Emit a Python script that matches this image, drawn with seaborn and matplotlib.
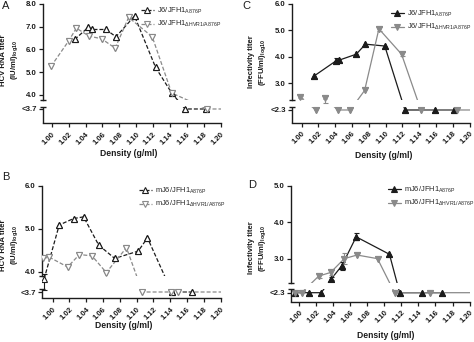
import numpy as np
import pandas as pd
import matplotlib
matplotlib.use("Agg")
import matplotlib.pyplot as plt
import matplotlib.transforms as mtransforms
import seaborn as sns

# ---------------------------------------------------------------------------
# Data: density of each gradient fraction (g/ml) and log10 titers.
# Fractions below the detection limit are stored at the limit value.
# ---------------------------------------------------------------------------
DENSITY_TICKS = [1.00, 1.02, 1.04, 1.06, 1.08, 1.10, 1.12, 1.14, 1.16, 1.18, 1.20]

# A: HCV RNA titer, J6/JFH1
A_DENS_WT = [1.027, 1.043, 1.047, 1.064, 1.076, 1.098, 1.123, 1.142, 1.158, 1.183]
A_RNA_WT = [6.44, 6.97, 6.88, 6.88, 6.56, 7.47, 5.21, 4.09, 3.7, 3.7]
A_DENS_DH = [0.999, 1.020, 1.029, 1.044, 1.059, 1.075, 1.091, 1.119, 1.142, 1.184, 1.205]
A_RNA_DH = [5.26, 6.38, 6.94, 6.59, 6.47, 6.06, 7.41, 6.56, 4.09, 3.7, 3.7]

# B: HCV RNA titer, mJ6/JFH1
B_DENS_WT = [0.990, 1.008, 1.025, 1.037, 1.055, 1.074, 1.102, 1.113, 1.142, 1.166]
B_RNA_WT = [3.83, 5.09, 5.24, 5.28, 4.62, 4.31, 4.48, 4.79, 3.7, 3.7]
B_ERR_WT = [0.12, 0, 0, 0, 0, 0, 0, 0, 0, 0]
B_DENS_DH = [0.989, 0.996, 1.018, 1.032, 1.047, 1.064, 1.088, 1.107, 1.141, 1.149, 1.205]
B_RNA_DH = [4.31, 4.34, 4.11, 4.40, 4.37, 3.98, 4.56, 3.7, 3.7, 3.7, 3.7]

# C: infectivity titer, J6/JFH1
C_DENS_WT = [1.015, 1.041, 1.045, 1.065, 1.076, 1.099, 1.123, 1.159, 1.181]
C_FFU_WT = [3.28, 3.85, 3.88, 4.10, 4.48, 4.41, 2.3, 2.3, 2.3]
C_ERR_WT = [0, 0.10, 0, 0, 0, 0, 0, 0, 0]
C_DENS_DH = [0.998, 1.017, 1.028, 1.043, 1.058, 1.075, 1.092, 1.119, 1.142, 1.185, 1.205]
C_FFU_DH = [2.48, 2.3, 2.43, 2.3, 2.3, 2.73, 5.06, 4.10, 2.3, 2.3, 2.3]
C_ERR_DH = [0.05, 0, 0.10, 0, 0, 0, 0.08, 0.08, 0, 0, 0]

# D: infectivity titer, mJ6/JFH1
D_DENS_WT = [0.995, 1.012, 1.026, 1.038, 1.050, 1.067, 1.106, 1.118, 1.144, 1.168]
D_FFU_WT = [2.3, 2.3, 2.3, 2.45, 2.80, 3.60, 3.12, 2.3, 2.3, 2.3]
D_ERR_WT = [0, 0, 0, 0.05, 0.12, 0.10, 0, 0, 0, 0]
D_DENS_DH = [0.995, 1.003, 1.023, 1.037, 1.053, 1.068, 1.092, 1.112, 1.153, 1.205]
D_FFU_DH = [2.3, 2.3, 2.52, 2.62, 3.00, 3.10, 3.00, 2.3, 2.3, 2.3]
D_ERR_DH = [0, 0, 0.05, 0.07, 0.15, 0, 0, 0, 0, 0]

LABELS_J6 = [r"J6/JFH1$_{\mathrm{A876P}}$", r"J6/JFH1$_{\mathrm{\Delta HVR1/A876P}}$"]
LABELS_MJ6 = [r"mJ6/JFH1$_{\mathrm{A876P}}$", r"mJ6/JFH1$_{\mathrm{\Delta HVR1/A876P}}$"]

# ---------------------------------------------------------------------------
sns.set_theme(style="ticks")
plt.rcParams["font.family"] = ["Liberation Sans", "DejaVu Sans"]
plt.rcParams["mathtext.fontset"] = "custom"
plt.rcParams["mathtext.rm"] = "Liberation Sans"
plt.rcParams["mathtext.bf"] = "Liberation Sans:bold"
plt.rcParams["mathtext.it"] = "Liberation Sans:italic"
plt.rcParams["axes.linewidth"] = 1.0

W, H, DPI = 474, 342, 100
BLACK = "#1c1c1c"
GREY = "#8a8a8a"
fig = plt.figure(figsize=(W / DPI, H / DPI), dpi=DPI)


def px_rect(left, top, right, bottom):
    return [left / W, 1 - bottom / H, (right - left) / W, (bottom - top) / H]


def broken_scale(brk, limit, floor_pos):
    """Linear above `brk`; the stretch below pushes the detection limit down
    to `floor_pos`, leaving room for the axis break."""
    k = (brk - floor_pos) / (brk - limit)

    def fwd(y):
        y = np.asarray(y, dtype=float)
        return np.where(y >= brk, y, brk - (brk - y) * k)

    def inv(t):
        t = np.asarray(t, dtype=float)
        return np.where(t >= brk, t, brk - (brk - t) / k)

    return fwd, inv


def draw_series(ax, x, y, err, color, marker, filled, dashed, label):
    df = pd.DataFrame({"density": x, "titer": y})
    mfc = color if filled else "white"
    ls = (0, (3.2, 1.6)) if dashed else "-"
    sns.lineplot(data=df, x="density", y="titer", ax=ax, estimator=None, sort=False,
                 color=color, linestyle=ls, linewidth=0.9, marker=marker,
                 markersize=5, markerfacecolor=mfc, markeredgecolor=color,
                 markeredgewidth=0.8, label=label, zorder=2)
    # markers sit above the break mask
    ax.plot(x, y, linestyle="none", marker=marker, ms=5, mfc=mfc, mec=color,
            mew=0.8, zorder=4)
    if err is not None:
        e = np.asarray(err, dtype=float)
        m = e > 0
        if m.any():
            ax.errorbar(np.asarray(x)[m], np.asarray(y)[m], yerr=e[m], fmt="none",
                        ecolor=color, elinewidth=0.8, capsize=1.8, capthick=0.8,
                        zorder=3.5)


def setup_panel(ax, p):
    fwd, inv = broken_scale(p["brk"], p["limit"], p["floor"])
    ax.set_yscale("function", functions=(fwd, inv))
    ax.set_xlim(p["xlim"])
    ax.set_ylim(float(inv(p["bottom"])), p["top"])
    ticks = list(p["yticks"]) + [p["limit"]]
    labels = [f"{t:.1f}" for t in p["yticks"]] + [f"<{p['limit']:.1f}"]
    ax.set_yticks(ticks)
    ax.set_yticklabels(labels, fontweight="bold")
    ax.set_xticks(DENSITY_TICKS)
    ax.set_xticklabels([f"{d:.2f}" for d in DENSITY_TICKS], rotation=45,
                       ha="right", rotation_mode="anchor", fontweight="bold")
    ax.minorticks_off()
    ax.tick_params(axis="both", length=3, width=0.9, labelsize=5.6, pad=1.5,
                   colors=BLACK, labelcolor=BLACK)
    ax.tick_params(axis="x", pad=2.5)
    for s in ("top", "right"):
        ax.spines[s].set_visible(False)
    gap_lo = float(inv(p["gap"][0]))
    gap_hi = float(inv(p["gap"][1]))
    ax.spines["left"].set_bounds(gap_hi, p["top"])
    ax.spines["left"].set_color(BLACK)
    ax.spines["bottom"].set_color(BLACK)
    tr = mtransforms.blended_transform_factory(ax.transAxes, ax.transData)
    ybot = float(inv(p["bottom"]))
    ax.plot([0, 0], [ybot, gap_lo], transform=tr, color=BLACK, lw=1.0,
            clip_on=False, zorder=5, solid_capstyle="butt")
    ax.plot([0, 0], [gap_hi, gap_lo], transform=tr, linestyle="none",
            marker="_", ms=4, mew=1.0, color=BLACK, clip_on=False, zorder=5)
    ax.axhspan(gap_lo, gap_hi, facecolor="white", edgecolor="none", zorder=2.5)
    ax.set_xlabel("")
    ax.set_ylabel("")


PANELS = {
    "A": dict(rect=px_rect(43, 4, 221, 123), xlim=(0.9895, 1.2005), top=8.0,
              yticks=[4.0, 5.0, 6.0, 7.0, 8.0], limit=3.7, brk=3.78, floor=3.385,
              bottom=2.769, gap=(3.47, 3.78)),
    "B": dict(rect=px_rect(42, 186, 221, 298), xlim=(0.9875, 1.2005), top=6.0,
              yticks=[4.0, 5.0, 6.0], limit=3.7, brk=3.75, floor=3.526,
              bottom=3.386, gap=(3.59, 3.90)),
    "C": dict(rect=px_rect(292, 4, 470, 122.7), xlim=(0.9885, 1.2005), top=6.0,
              yticks=[3.0, 4.0, 5.0, 6.0], limit=2.3, brk=2.34, floor=1.99,
              bottom=1.509, gap=(2.115, 2.368)),
    "D": dict(rect=px_rect(291, 186, 470, 301.7), xlim=(0.9905, 1.2005), top=5.0,
              yticks=[3.0, 4.0, 5.0], limit=2.3, brk=2.32, floor=2.063,
              bottom=1.815, gap=(2.157, 2.32)),
}

SERIES = {
    "A": [(A_DENS_WT, A_RNA_WT, None, BLACK, "^", False, True, LABELS_J6[0]),
          (A_DENS_DH, A_RNA_DH, None, GREY, "v", False, True, LABELS_J6[1])],
    "B": [(B_DENS_WT, B_RNA_WT, B_ERR_WT, BLACK, "^", False, True, LABELS_MJ6[0]),
          (B_DENS_DH, B_RNA_DH, None, GREY, "v", False, True, LABELS_MJ6[1])],
    "C": [(C_DENS_WT, C_FFU_WT, C_ERR_WT, BLACK, "^", True, False, LABELS_J6[0]),
          (C_DENS_DH, C_FFU_DH, C_ERR_DH, GREY, "v", True, False, LABELS_J6[1])],
    "D": [(D_DENS_WT, D_FFU_WT, D_ERR_WT, BLACK, "^", True, False, LABELS_MJ6[0]),
          (D_DENS_DH, D_FFU_DH, D_ERR_DH, GREY, "v", True, False, LABELS_MJ6[1])],
}

LEGEND_POS = {"A": (141, 6), "B": (139, 186), "C": (391, 9), "D": (388, 185)}
LETTER_POS = {"A": (2, 1), "B": (2, 172), "C": (242, 1), "D": (248, 180)}
YLABEL = {
    "A": ("HCV RNA titer\n(IU/ml)$_{\\mathbf{log10}}$", 10, 60),
    "B": ("HCV RNA titer\n(IU/ml)$_{\\mathbf{log10}}$", 10, 245),
    "C": ("Infectivity titer\n(FFU/ml)$_{\\mathbf{log10}}$", 258, 62),
    "D": ("Infectivity titer\n(FFU/ml)$_{\\mathbf{log10}}$", 258, 248),
}
XLABEL_POS = {"A": (129, 154), "B": (124, 326), "C": (384, 155), "D": (386, 336)}

for key, p in PANELS.items():
    ax = fig.add_axes(p["rect"])
    for s in SERIES[key]:
        draw_series(ax, *s)
    setup_panel(ax, p)
    lx, ly = LEGEND_POS[key]
    ax.legend(loc="upper left", bbox_to_anchor=(lx / W, 1 - ly / H),
              bbox_transform=fig.transFigure, frameon=False, fontsize=5.4,
              handlelength=1.7, handletextpad=0.4, labelspacing=0.4,
              borderpad=0, borderaxespad=0)
    tx, ty = LETTER_POS[key]
    fig.text(tx / W, 1 - ty / H, key, fontsize=8, va="top", ha="left", color=BLACK)
    txt, yx, yy = YLABEL[key]
    fig.text(yx / W, 1 - yy / H, txt, rotation=90, ha="center", va="center",
             fontsize=5.6, fontweight="bold", linespacing=1.3, color=BLACK,
             multialignment="center")
    xx, xy = XLABEL_POS[key]
    fig.text(xx / W, 1 - xy / H, "Density (g/ml)", ha="center", va="center",
             fontsize=6.2, fontweight="bold", color=BLACK)

fig.savefig("out.png", dpi=DPI, facecolor="white")
